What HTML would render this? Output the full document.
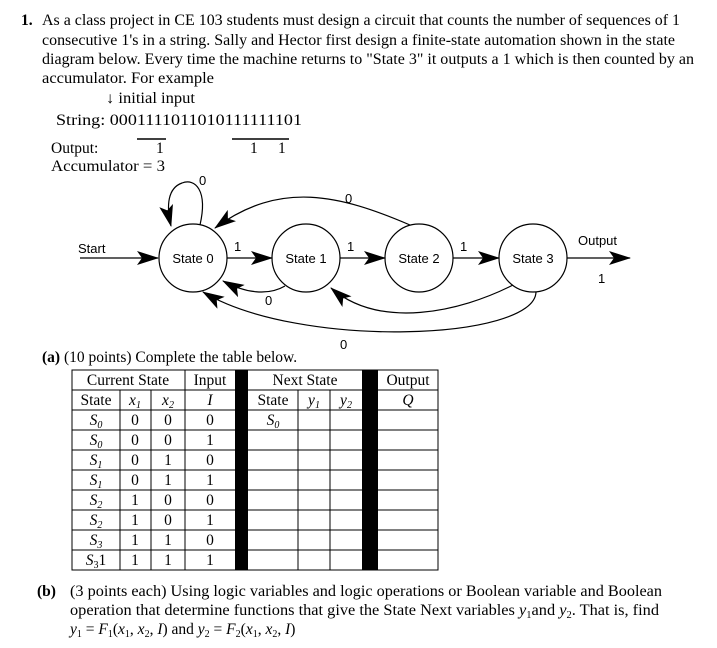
<!DOCTYPE html>
<html><head><meta charset="utf-8"><style>
html,body{margin:0;padding:0;background:#fff;}
svg{display:block;}
.t{font-family:"Liberation Serif",serif;font-size:15.5px;fill:#000;}
.s{font-family:"Liberation Sans",sans-serif;font-size:13px;fill:#000;}
.i{font-style:italic;}
</style></head><body>
<svg width="717" height="648" viewBox="0 0 717 648" xmlns="http://www.w3.org/2000/svg">
<defs>
<marker id="a" markerWidth="22" markerHeight="14" refX="21" refY="7" orient="auto" markerUnits="userSpaceOnUse">
<path d="M0,0 L22,7 L0,14 L5,7 Z" fill="#000"/>
</marker>
</defs>
<text class="t" x="21" y="25" font-weight="bold">1.</text>
<text class="t" x="42" y="25" textLength="638" lengthAdjust="spacingAndGlyphs">As a class project in CE 103 students must design a circuit that counts the number of sequences of 1</text>
<text class="t" x="42" y="45" textLength="633" lengthAdjust="spacingAndGlyphs">consecutive 1's in a string. Sally and Hector first design a finite-state automation shown in the state</text>
<text class="t" x="42" y="64" textLength="652" lengthAdjust="spacingAndGlyphs">diagram below. Every time the machine returns to "State 3" it outputs a 1 which is then counted by an</text>
<text class="t" x="42" y="83" textLength="172" lengthAdjust="spacingAndGlyphs">accumulator.  For example</text>
<text class="t" x="106" y="103" textLength="89" lengthAdjust="spacingAndGlyphs">↓ initial input</text>
<text class="t" x="56" y="125" textLength="246" lengthAdjust="spacingAndGlyphs">String:  0001111011010111111101</text>
<line x1="137" y1="139" x2="166" y2="139" stroke="#000" stroke-width="1.5"/>
<line x1="232" y1="139" x2="289" y2="139" stroke="#000" stroke-width="1.5"/>
<text class="t" x="51" y="153">Output:</text>
<text class="t" x="156" y="153">1</text>
<text class="t" x="250" y="153">1</text>
<text class="t" x="278" y="153">1</text>
<text class="t" x="51" y="171" textLength="114" lengthAdjust="spacingAndGlyphs">Accumulator = 3</text>

<g fill="none" stroke="#000" stroke-width="1.2">
<circle cx="193" cy="258" r="34" fill="#fff"/>
<circle cx="306" cy="258" r="34" fill="#fff"/>
<circle cx="419" cy="258" r="34" fill="#fff"/>
<circle cx="533" cy="258" r="34" fill="#fff"/>
<line x1="80" y1="258" x2="158" y2="258" marker-end="url(#a)"/>
<line x1="227" y1="258" x2="272" y2="258" marker-end="url(#a)"/>
<line x1="340" y1="258" x2="385" y2="258" marker-end="url(#a)"/>
<line x1="453" y1="258" x2="499" y2="258" marker-end="url(#a)"/>
<line x1="567" y1="258" x2="630" y2="258" marker-end="url(#a)"/>
<path d="M200,225 C208,190 195,178 182,183 C168,188 166,205 171,226" marker-end="url(#a)"/>
<path d="M410,225 C340,195 280,180 215,228" marker-end="url(#a)"/>
<path d="M285,286 C268,296 245,293 223,281" marker-end="url(#a)"/>
<path d="M513,285 C460,312 380,330 331,288" marker-end="url(#a)"/>
<path d="M536,292 C535,340 300,350 203,292" marker-end="url(#a)"/>
</g>
<text class="s" x="193" y="263" text-anchor="middle">State 0</text>
<text class="s" x="306" y="263" text-anchor="middle">State 1</text>
<text class="s" x="419" y="263" text-anchor="middle">State 2</text>
<text class="s" x="533" y="263" text-anchor="middle">State 3</text>
<text class="s" x="78" y="253">Start</text>
<text class="s" x="578" y="245">Output</text>
<text class="s" x="598" y="283">1</text>
<text class="s" x="234" y="251">1</text>
<text class="s" x="347" y="251">1</text>
<text class="s" x="460" y="251">1</text>
<text class="s" x="199" y="185">0</text>
<text class="s" x="345" y="203">0</text>
<text class="s" x="265" y="305">0</text>
<text class="s" x="340" y="349">0</text>

<text class="t" x="42" y="362"><tspan font-weight="bold">(a)</tspan> (10 points) Complete the table below.</text>
<g stroke="#000" stroke-width="1" fill="none">
<rect x="72" y="370" width="366" height="200"/>
<line x1="72" y1="390" x2="235" y2="390"/><line x1="248" y1="390" x2="362" y2="390"/><line x1="378" y1="390" x2="438" y2="390"/>
<line x1="72" y1="410" x2="438" y2="410"/>
<line x1="72" y1="430" x2="438" y2="430"/>
<line x1="72" y1="450" x2="438" y2="450"/>
<line x1="72" y1="470" x2="438" y2="470"/>
<line x1="72" y1="490" x2="438" y2="490"/>
<line x1="72" y1="510" x2="438" y2="510"/>
<line x1="72" y1="530" x2="438" y2="530"/>
<line x1="72" y1="550" x2="438" y2="550"/>
<line x1="120" y1="390" x2="120" y2="570"/>
<line x1="151" y1="390" x2="151" y2="570"/>
<line x1="185" y1="370" x2="185" y2="570"/>
<line x1="298" y1="390" x2="298" y2="570"/>
<line x1="330" y1="390" x2="330" y2="570"/>
</g>
<rect x="235" y="370" width="13" height="200" fill="#000"/>
<rect x="362" y="370" width="16" height="200" fill="#000"/>
<g class="t" text-anchor="middle">
<text x="128" y="385">Current State</text>
<text x="210" y="385">Input</text>
<text x="305" y="385">Next State</text>
<text x="408" y="385">Output</text>
<text x="96" y="405">State</text>
<text x="135" y="405" class="i">x<tspan font-size="10" dy="3">1</tspan></text>
<text x="168" y="405" class="i">x<tspan font-size="10" dy="3">2</tspan></text>
<text x="210" y="405" class="i">I</text>
<text x="273" y="405">State</text>
<text x="314" y="405" class="i">y<tspan font-size="10" dy="3">1</tspan></text>
<text x="346" y="405" class="i">y<tspan font-size="10" dy="3">2</tspan></text>
<text x="408" y="405" class="i">Q</text>
<text x="273" y="425" class="i">S<tspan font-size="10" dy="3">0</tspan></text>
</g>
<g class="t" text-anchor="middle">
<text x="96" y="425" class="i">S<tspan font-size="10" dy="3">0</tspan></text><text x="135" y="425">0</text><text x="168" y="425">0</text><text x="210" y="425">0</text>
<text x="96" y="445" class="i">S<tspan font-size="10" dy="3">0</tspan></text><text x="135" y="445">0</text><text x="168" y="445">0</text><text x="210" y="445">1</text>
<text x="96" y="465" class="i">S<tspan font-size="10" dy="3">1</tspan></text><text x="135" y="465">0</text><text x="168" y="465">1</text><text x="210" y="465">0</text>
<text x="96" y="485" class="i">S<tspan font-size="10" dy="3">1</tspan></text><text x="135" y="485">0</text><text x="168" y="485">1</text><text x="210" y="485">1</text>
<text x="96" y="505" class="i">S<tspan font-size="10" dy="3">2</tspan></text><text x="135" y="505">1</text><text x="168" y="505">0</text><text x="210" y="505">0</text>
<text x="96" y="525" class="i">S<tspan font-size="10" dy="3">2</tspan></text><text x="135" y="525">1</text><text x="168" y="525">0</text><text x="210" y="525">1</text>
<text x="96" y="545" class="i">S<tspan font-size="10" dy="3">3</tspan></text><text x="135" y="545">1</text><text x="168" y="545">1</text><text x="210" y="545">0</text>
<text x="96" y="565"><tspan class="i">S</tspan><tspan font-size="10" dy="3">3</tspan><tspan dy="-3">1</tspan></text><text x="135" y="565">1</text><text x="168" y="565">1</text><text x="210" y="565">1</text>
</g>

<text class="t" x="37" y="596" font-weight="bold">(b)</text>
<text class="t" x="70" y="596" textLength="592" lengthAdjust="spacingAndGlyphs">(3 points each) Using logic variables and logic operations or Boolean variable and Boolean</text>
<text class="t" x="70" y="615" textLength="589" lengthAdjust="spacingAndGlyphs">operation that determine functions that give the State Next variables <tspan class="i">y</tspan><tspan font-size="10" dy="3">1</tspan><tspan dy="-3">and </tspan><tspan class="i">y</tspan><tspan font-size="10" dy="3">2</tspan><tspan dy="-3">.  That is, find</tspan></text>
<text class="t" x="70" y="634"><tspan class="i">y</tspan><tspan font-size="10" dy="3">1</tspan><tspan dy="-3"> = </tspan><tspan class="i">F</tspan><tspan font-size="10" dy="3">1</tspan><tspan dy="-3">(</tspan><tspan class="i">x</tspan><tspan font-size="10" dy="3">1</tspan><tspan dy="-3">, </tspan><tspan class="i">x</tspan><tspan font-size="10" dy="3">2</tspan><tspan dy="-3">, </tspan><tspan class="i">I</tspan>) and <tspan class="i">y</tspan><tspan font-size="10" dy="3">2</tspan><tspan dy="-3"> = </tspan><tspan class="i">F</tspan><tspan font-size="10" dy="3">2</tspan><tspan dy="-3">(</tspan><tspan class="i">x</tspan><tspan font-size="10" dy="3">1</tspan><tspan dy="-3">, </tspan><tspan class="i">x</tspan><tspan font-size="10" dy="3">2</tspan><tspan dy="-3">, </tspan><tspan class="i">I</tspan>)</text>
</svg>
</body></html>
